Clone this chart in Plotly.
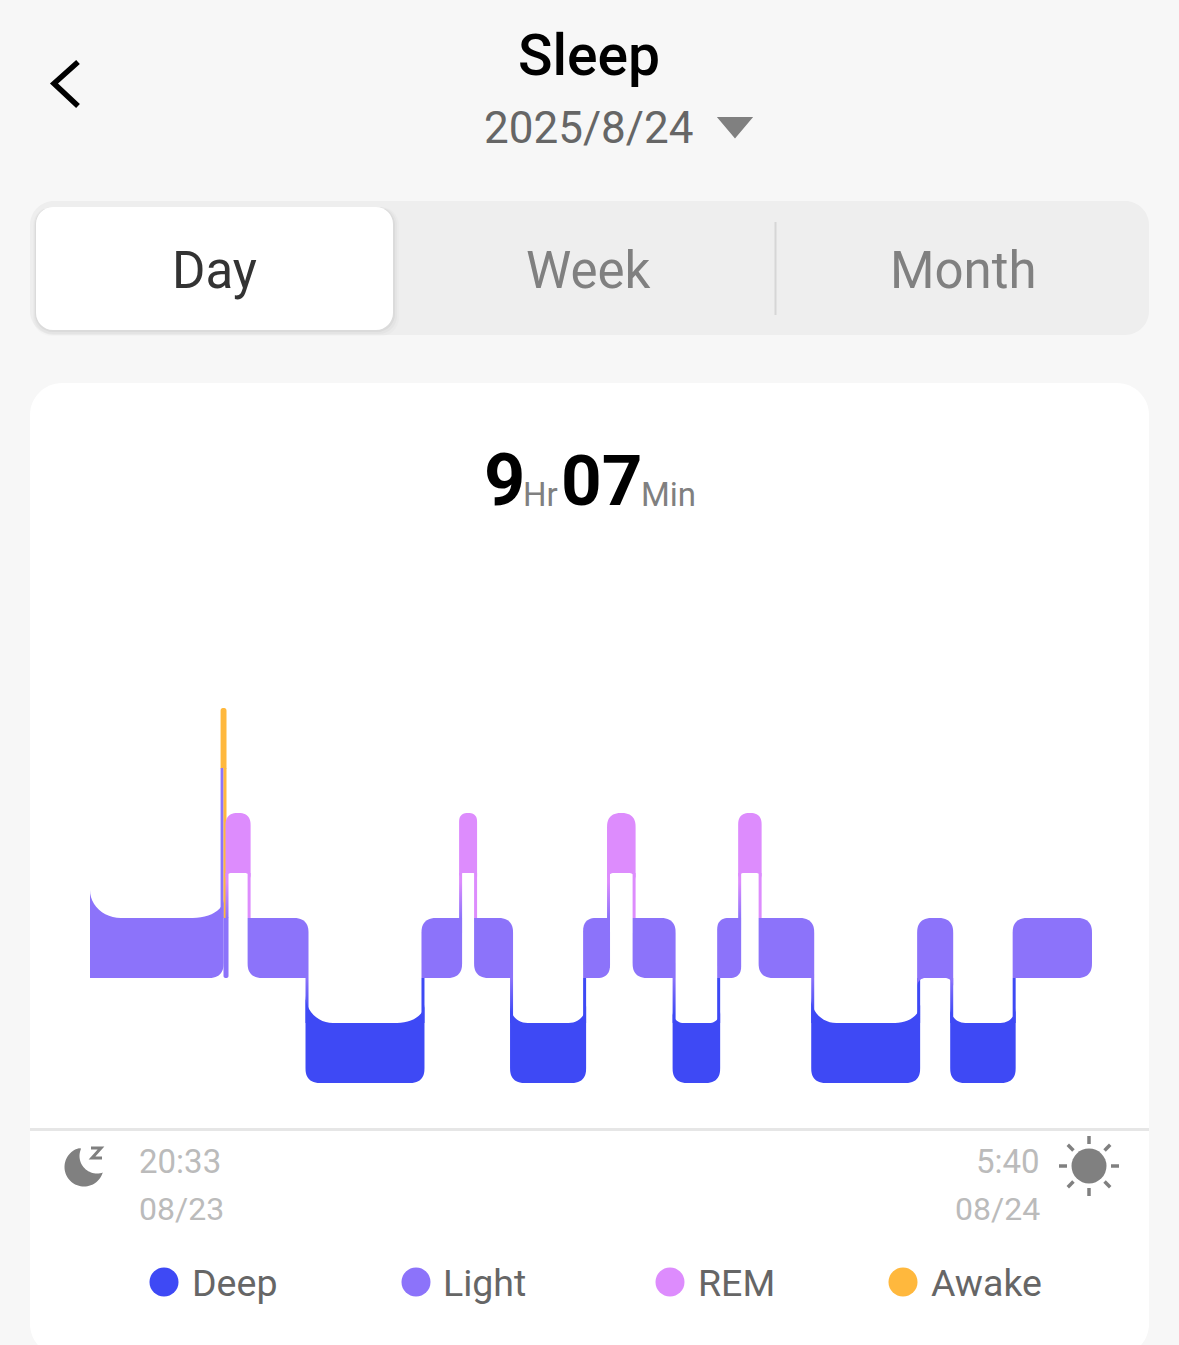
import math
import plotly.graph_objects as go

# ---- data -------------------------------------------------------------
screen_title = "Sleep"
screen_date = "2025/8/24"
tab_labels = ["Day", "Week", "Month"]
total_hours = "9"
total_minutes = "07"
start_time = "20:33"
start_date = "08/23"
end_time = "5:40"
end_date = "08/24"

stage_names = ["Deep", "Light", "REM", "Awake"]
stage_colors = ["#3e49f5", "#8c73fa", "#dd8cfd", "#ffb83d"]

# Sleep stages in time order, with the minute after 20:33 at which each one ends
stage_sequence = ["Light", "Awake", "Light", "REM", "Light", "Deep", "Light", "REM",
                  "Light", "Deep", "Light", "REM", "Light", "Deep", "Light", "REM",
                  "Light", "Deep", "Light", "Deep", "Light"]
stage_end_minutes = [71.5, 73.1, 74.2, 86.3, 118.0, 181.5, 202.1, 210.3,
                     230.0, 270.0, 283.1, 297.1, 319.0, 343.4, 354.9, 366.1,
                     394.9, 452.9, 471.0, 505.2, 547.0]

# ---- page geometry ----------------------------------------------------
W, H = 1179, 1345
PLOT_L, PLOT_R, PLOT_T, PLOT_B = 30, 1149, 530, 1128
PX_PER_MIN = 999 / 547
PX_PER_LEVEL = 105
T0_PX = 91.5          # pixel column of minute 0
L1_PX = 948           # pixel row of the centre of the Light band
GREY = "#808080"


def X(px):
    return px / W


def Y(py):
    return 1 - py / H


dx = 1 / PX_PER_MIN
dy = 1 / PX_PER_LEVEL
x_range = [(PLOT_L - T0_PX) * dx, (PLOT_R - T0_PX) * dx]
y_range = [1 - (PLOT_B - L1_PX) * dy, 1 - (PLOT_T - L1_PX) * dy]
HALF = 30 * dy        # half height of a stage band
STRIP = 1.5 * dx      # half width of the link between two stages
level = {n: i for i, n in enumerate(stage_names)}
color = dict(zip(stage_names, stage_colors))
NO_LINE = dict(width=0, simplify=False)   # keep every outline point of the curves


# ---- stage outlines ---------------------------------------------------
def arc(cx, cy, rx, ry, a0, a1, power=1.0, n=12):
    pts = []
    for k in range(n + 1):
        a = math.radians(a0 + (a1 - a0) * k / n)
        c, s = math.cos(a), math.sin(a)
        pts.append((cx + rx * math.copysign(abs(c) ** power, c),
                    cy + ry * math.copysign(abs(s) ** power, s)))
    return pts


def outline(x0, x1, lv, tl, tr, br, bl, radius, frx, fry_l, fry_r):
    top, bot = lv + HALF, lv - HALF
    rx, ry = radius * dx, radius * dy
    fx = frx * dx
    fl, fr = fry_l * dy, fry_r * dy
    sq = 0.8    # outer corners are slightly squarer than a circle
    p = []
    p += {"round": lambda: arc(x0 + rx, top - ry, rx, ry, 180, 90, sq),
          "sharp": lambda: [(x0, top)],
          "fillet": lambda: arc(x0 + fx, top + fl, fx, fl, 180, 270)}[tl]()
    p += {"round": lambda: arc(x1 - rx, top - ry, rx, ry, 90, 0, sq),
          "sharp": lambda: [(x1, top)],
          "fillet": lambda: arc(x1 - fx, top + fr, fx, fr, 270, 360)}[tr]()
    p += {"round": lambda: arc(x1 - rx, bot + ry, rx, ry, 0, -90, sq),
          "sharp": lambda: [(x1, bot)],
          "fillet": lambda: arc(x1 - fx, bot - fr, fx, fr, 0, 90)}[br]()
    p += {"round": lambda: arc(x0 + rx, bot + ry, rx, ry, 270, 180, sq),
          "sharp": lambda: [(x0, bot)],
          "fillet": lambda: arc(x0 + fx, bot - fl, fx, fl, 90, 180)}[bl]()
    p.append(p[0])
    return [q[0] for q in p], [q[1] for q in p]


fig = go.Figure()
starts = [0.0] + stage_end_minutes[:-1]
count = len(stage_sequence)

# links between consecutive stages go underneath the stage blocks
for i in range(count - 1):
    a, b = stage_sequence[i], stage_sequence[i + 1]
    t = stage_end_minutes[i]
    la, lb = level[a], level[b]
    lo, hi = min(la, lb) + HALF, max(la, lb) - HALF
    xs = [t - STRIP, t + STRIP, t + STRIP, t - STRIP, t - STRIP]
    ys = [lo, lo, hi, hi, lo]
    if a == "Light" and b != "Awake":
        src = la + HALF if lb > la else la - HALF
        tgt = lb - HALF if lb > la else lb + HALF
        # the colour settles on the target stage before the link reaches it
        tgt = src + (tgt - src) * 0.8
        y_lo, y_hi = min(src, tgt), max(src, tgt)
        low_col, high_col = (color[a], color[b]) if lb > la else (color[b], color[a])
        fig.add_trace(go.Scatter(
            x=xs, y=ys, mode="lines", fill="toself", line=NO_LINE,
            fillgradient=dict(type="vertical", start=y_lo, stop=y_hi,
                              colorscale=[[0, low_col], [1, high_col]]),
            hoverinfo="skip", showlegend=False))
    else:
        fig.add_trace(go.Scatter(
            x=xs, y=ys, mode="lines", fill="toself", line=NO_LINE,
            fillcolor=color[a], hoverinfo="skip", showlegend=False))

for i, name in enumerate(stage_sequence):
    lv = level[name]
    first, last = i == 0, i == count - 1
    prev_lv = level[stage_sequence[i - 1]] if not first else None
    next_lv = level[stage_sequence[i + 1]] if not last else None
    x0 = starts[i] - STRIP
    x1 = stage_end_minutes[i] + STRIP
    width = (x1 - x0) / dx
    left_up = first or prev_lv > lv
    left_down = not first and prev_lv < lv
    right_up = not last and next_lv > lv
    right_down = not last and next_lv < lv
    top_fillet = left_up and right_up
    bot_fillet = left_down and right_down
    tl = ("fillet" if top_fillet else "sharp") if left_up else "round"
    tr = ("fillet" if top_fillet else "sharp") if right_up else "round"
    bl = ("fillet" if bot_fillet else "sharp") if left_down else "round"
    br = ("fillet" if bot_fillet else "sharp") if right_down else "round"
    if first:
        bl = "sharp"
    frx = 0.23 * width
    fry_l, fry_r = min(frx, 28), min(frx, 18.5)
    radius = min(15, width / 2)
    xs, ys = outline(x0, x1, lv, tl, tr, br, bl, radius, frx, fry_l, fry_r)
    fig.add_trace(go.Scatter(x=xs, y=ys, mode="lines", fill="toself",
                             line=NO_LINE, fillcolor=color[name],
                             hoverinfo="skip", showlegend=False))


# ---- page furniture ---------------------------------------------------
def rrect(x0, y0, x1, y1, r):
    k = r * 0.45
    seq = [("M", x0 + r, y0), ("L", x1 - r, y0),
           ("C", x1 - k, y0, x1, y0 + k, x1, y0 + r), ("L", x1, y1 - r),
           ("C", x1, y1 - k, x1 - k, y1, x1 - r, y1), ("L", x0 + r, y1),
           ("C", x0 + k, y1, x0, y1 - k, x0, y1 - r), ("L", x0, y0 + r),
           ("C", x0, y0 + k, x0 + k, y0, x0 + r, y0)]
    out = []
    for s in seq:
        vals = s[1:]
        coords = []
        for j in range(0, len(vals), 2):
            coords.append(f"{X(vals[j]):.6f},{Y(vals[j + 1]):.6f}")
        out.append(s[0] + " ".join(coords))
    return " ".join(out) + " Z"


def poly(points, close=True):
    body = " L".join(f"{X(a):.6f},{Y(b):.6f}" for a, b in points)
    return "M" + body + (" Z" if close else "")


shapes = []


def add_path(path, fill=None, line=None, width=0):
    shapes.append(dict(type="path", xref="paper", yref="paper", layer="below", path=path,
                       fillcolor=fill or "rgba(0,0,0,0)",
                       line=dict(color=line or "rgba(0,0,0,0)", width=width)))


def add_line(a, b, c, d, col, width):
    add_path(poly([(a, b), (c, d)], close=False), line=col, width=width)


def add_dot(cx, cy, r, col):
    shapes.append(dict(type="circle", xref="paper", yref="paper", layer="below",
                       x0=X(cx - r), x1=X(cx + r), y0=Y(cy + r), y1=Y(cy - r),
                       fillcolor=col, line=dict(width=0)))


# segmented control and chart card
add_path(rrect(30, 201, 1149, 335, 24), fill="#eeeeee")
for grow, alpha in ((6, 0.015), (4, 0.025), (2, 0.04)):
    add_path(rrect(36 - grow / 2, 207, 393 + grow, 330 + grow, 18), fill=f"rgba(0,0,0,{alpha})")
add_path(rrect(36, 207, 393, 330, 17), fill="#ffffff")
add_line(775.5, 222, 775.5, 315, "#d6d6d6", 2)
add_path(rrect(30, 383, 1149, 1356, 32), fill="#ffffff")

# back chevron and date caret
add_path(poly([(78, 62), (54, 83.5), (78, 106)], close=False), line="#000000", width=5.5)
add_path(poly([(719, 118), (751, 118), (735, 137)]), fill=GREY, line=GREY, width=2)

# moon with its small z
big_c, big_r = (84, 1167), 19.5
bite_c, bite_r = (97, 1156), 17.5
moon = []
for deg in range(15, 260, 5):
    a = math.radians(deg)
    moon.append((big_c[0] + big_r * math.cos(a), big_c[1] + big_r * math.sin(a)))
for deg in range(205, 65, -5):
    a = math.radians(deg)
    moon.append((bite_c[0] + bite_r * math.cos(a), bite_c[1] + bite_r * math.sin(a)))
add_path(poly(moon), fill=GREY)
add_path(poly([(91, 1148), (101, 1148), (92, 1158), (102, 1158)], close=False), line=GREY, width=3)

# sun
add_dot(1089, 1166, 17.5, GREY)
for deg in range(0, 360, 45):
    a = math.radians(deg)
    add_line(1089 + 22 * math.cos(a), 1166 + 22 * math.sin(a),
             1089 + 30 * math.cos(a), 1166 + 30 * math.sin(a), GREY, 3.5)

# legend dots
legend_dot_x = [164, 416, 670, 903]
legend_text_x = [192, 443, 698, 931]
for cx, col in zip(legend_dot_x, stage_colors):
    add_dot(cx, 1282, 14.5, col)

FONT = "Roboto"
annotations = []


def txt(px, py, s, size, col, anchor="center", weight=None):
    f = dict(family=FONT, size=size, color=col)
    if weight:
        f["weight"] = weight
    annotations.append(dict(xref="paper", yref="paper", x=X(px), y=Y(py), text=s,
                            showarrow=False, xanchor=anchor, yanchor="middle",
                            font=f, borderpad=0, borderwidth=0))


txt(589, 55, screen_title, 57, "#000000", weight=500)
txt(588.5, 128, screen_date, 44, "#666666")
txt(214, 270, tab_labels[0], 51, "#333333")
txt(588, 270, tab_labels[1], 51, GREY)
txt(963, 270, tab_labels[2], 51, GREY)

txt(484, 480, total_hours, 72, "#000000", "left", 700)
txt(523, 495, "Hr", 33, GREY, "left")
txt(561, 480, total_minutes, 71, "#000000", "left", 700)
txt(641, 495, "Min", 33, GREY, "left")

txt(139, 1161, start_time, 33, "#bbbbbb", "left")
txt(139, 1209, start_date, 32, "#bbbbbb", "left")
txt(1040, 1161, end_time, 33, "#bbbbbb", "right")
txt(1040, 1209, end_date, 32, "#bbbbbb", "right")

for px, name in zip(legend_text_x, stage_names):
    txt(px, 1283, name, 37.5, "#666666", "left")

fig.update_layout(
    width=W, height=H, margin=dict(l=0, r=0, t=0, b=0),
    paper_bgcolor="#f7f7f7", plot_bgcolor="rgba(0,0,0,0)",
    showlegend=False, shapes=shapes, annotations=annotations,
    xaxis=dict(domain=[X(PLOT_L), X(PLOT_R)], range=x_range, showgrid=False, zeroline=False,
               showticklabels=False, ticks="", showline=True, linecolor="#e6e6e6", linewidth=3,
               fixedrange=True),
    yaxis=dict(domain=[Y(PLOT_B), Y(PLOT_T)], range=y_range, showgrid=False, zeroline=False,
               showticklabels=False, ticks="", showline=False, fixedrange=True),
)

fig.write_html("out.html", config={"displayModeBar": False})
